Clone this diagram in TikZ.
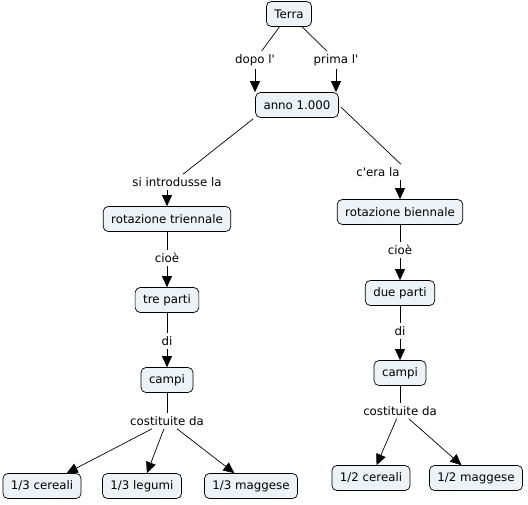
\documentclass[tikz,border=0pt]{standalone}
\usepackage{fontspec}
\newfontfamily\vfont{DejaVu Sans}
\usetikzlibrary{arrows.meta}
\definecolor{boxfill}{HTML}{EDF2F6}
\begin{document}
\begin{tikzpicture}[x=1pt,y=-1pt,
  concept/.style={draw=black,fill=boxfill,rounded corners=5pt,font=\vfont\fontsize{11.8}{13}\selectfont,inner xsep=8pt,inner ysep=0pt,minimum height=25pt,line width=0.7pt},
  lbl/.style={font=\vfont\fontsize{11.8}{13}\selectfont,inner sep=3pt},
  ln/.style={line width=0.7pt},
  arr/.style={line width=0.7pt,-{Triangle[length=11pt,width=10pt]}}]
\useasboundingbox (0,0) rectangle (528,504);
\node[concept] (terra) at (289,14) {Terra};
\node[lbl] (dopo) at (255,60) {dopo l'};
\node[lbl] (prima) at (336,60) {prima l'};
\node[concept] (anno) at (297,105) {anno 1.000};
\node[lbl] (intro) at (177,182) {si introdusse la};
\node[lbl] (cera) at (378,172) {c'era la};
\node[concept] (rotT) at (167,219) {rotazione triennale};
\node[lbl] (cioe1) at (167,258) {cioè};
\node[concept] (treP) at (167,300) {tre parti};
\node[lbl] (di1) at (167,341) {di};
\node[concept] (campi1) at (167,380) {campi};
\node[lbl] (cost1) at (167,421) {costituite da};
\node[concept] (c3) at (42,486) {1/3 cereali};
\node[concept] (l3) at (142,486) {1/3 legumi};
\node[concept] (m3) at (251,486) {1/3 maggese};
\node[concept] (rotB) at (400,212) {rotazione biennale};
\node[lbl] (cioe2) at (400,250) {cioè};
\node[concept] (dueP) at (400,293) {due parti};
\node[lbl] (di2) at (400,331) {di};
\node[concept] (campi2) at (400,373) {campi};
\node[lbl] (cost2) at (400,411) {costituite da};
\node[concept] (c2) at (371,478) {1/2 cereali};
\node[concept] (m2) at (476,478) {1/2 maggese};
\draw[ln] (terra) -- (dopo);
\draw[ln] (terra) -- (prima);
\draw[arr] (dopo.south) -- (dopo.south |- anno.north);
\draw[arr] (prima.south) -- (prima.south |- anno.north);
\draw[ln] ([shift={(-2,1)}]anno.south west) -- ([xshift=6pt]intro.north);
\draw[ln] ([shift={(2,2)}]anno.east) -- ([xshift=-2pt]cera.north east);
\draw[arr] (intro.south -| rotT.north) -- (rotT.north);
\draw[arr] (cera.south -| rotB.north) -- (rotB.north);
\draw[ln] (rotT) -- (cioe1);
\draw[arr] (cioe1) -- (treP);
\draw[ln] (treP) -- (di1);
\draw[arr] (di1) -- (campi1);
\draw[ln] (campi1) -- (cost1);
\draw[arr] (cost1) -- (c3);
\draw[arr] (cost1) -- (l3);
\draw[arr] (cost1) -- (m3);
\draw[ln] (rotB) -- (cioe2);
\draw[arr] (cioe2) -- (dueP);
\draw[ln] (dueP) -- (di2);
\draw[arr] (di2) -- (campi2);
\draw[ln] (campi2) -- (cost2);
\draw[arr] (cost2) -- (c2);
\draw[arr] (cost2) -- (m2);
\end{tikzpicture}
\end{document}
